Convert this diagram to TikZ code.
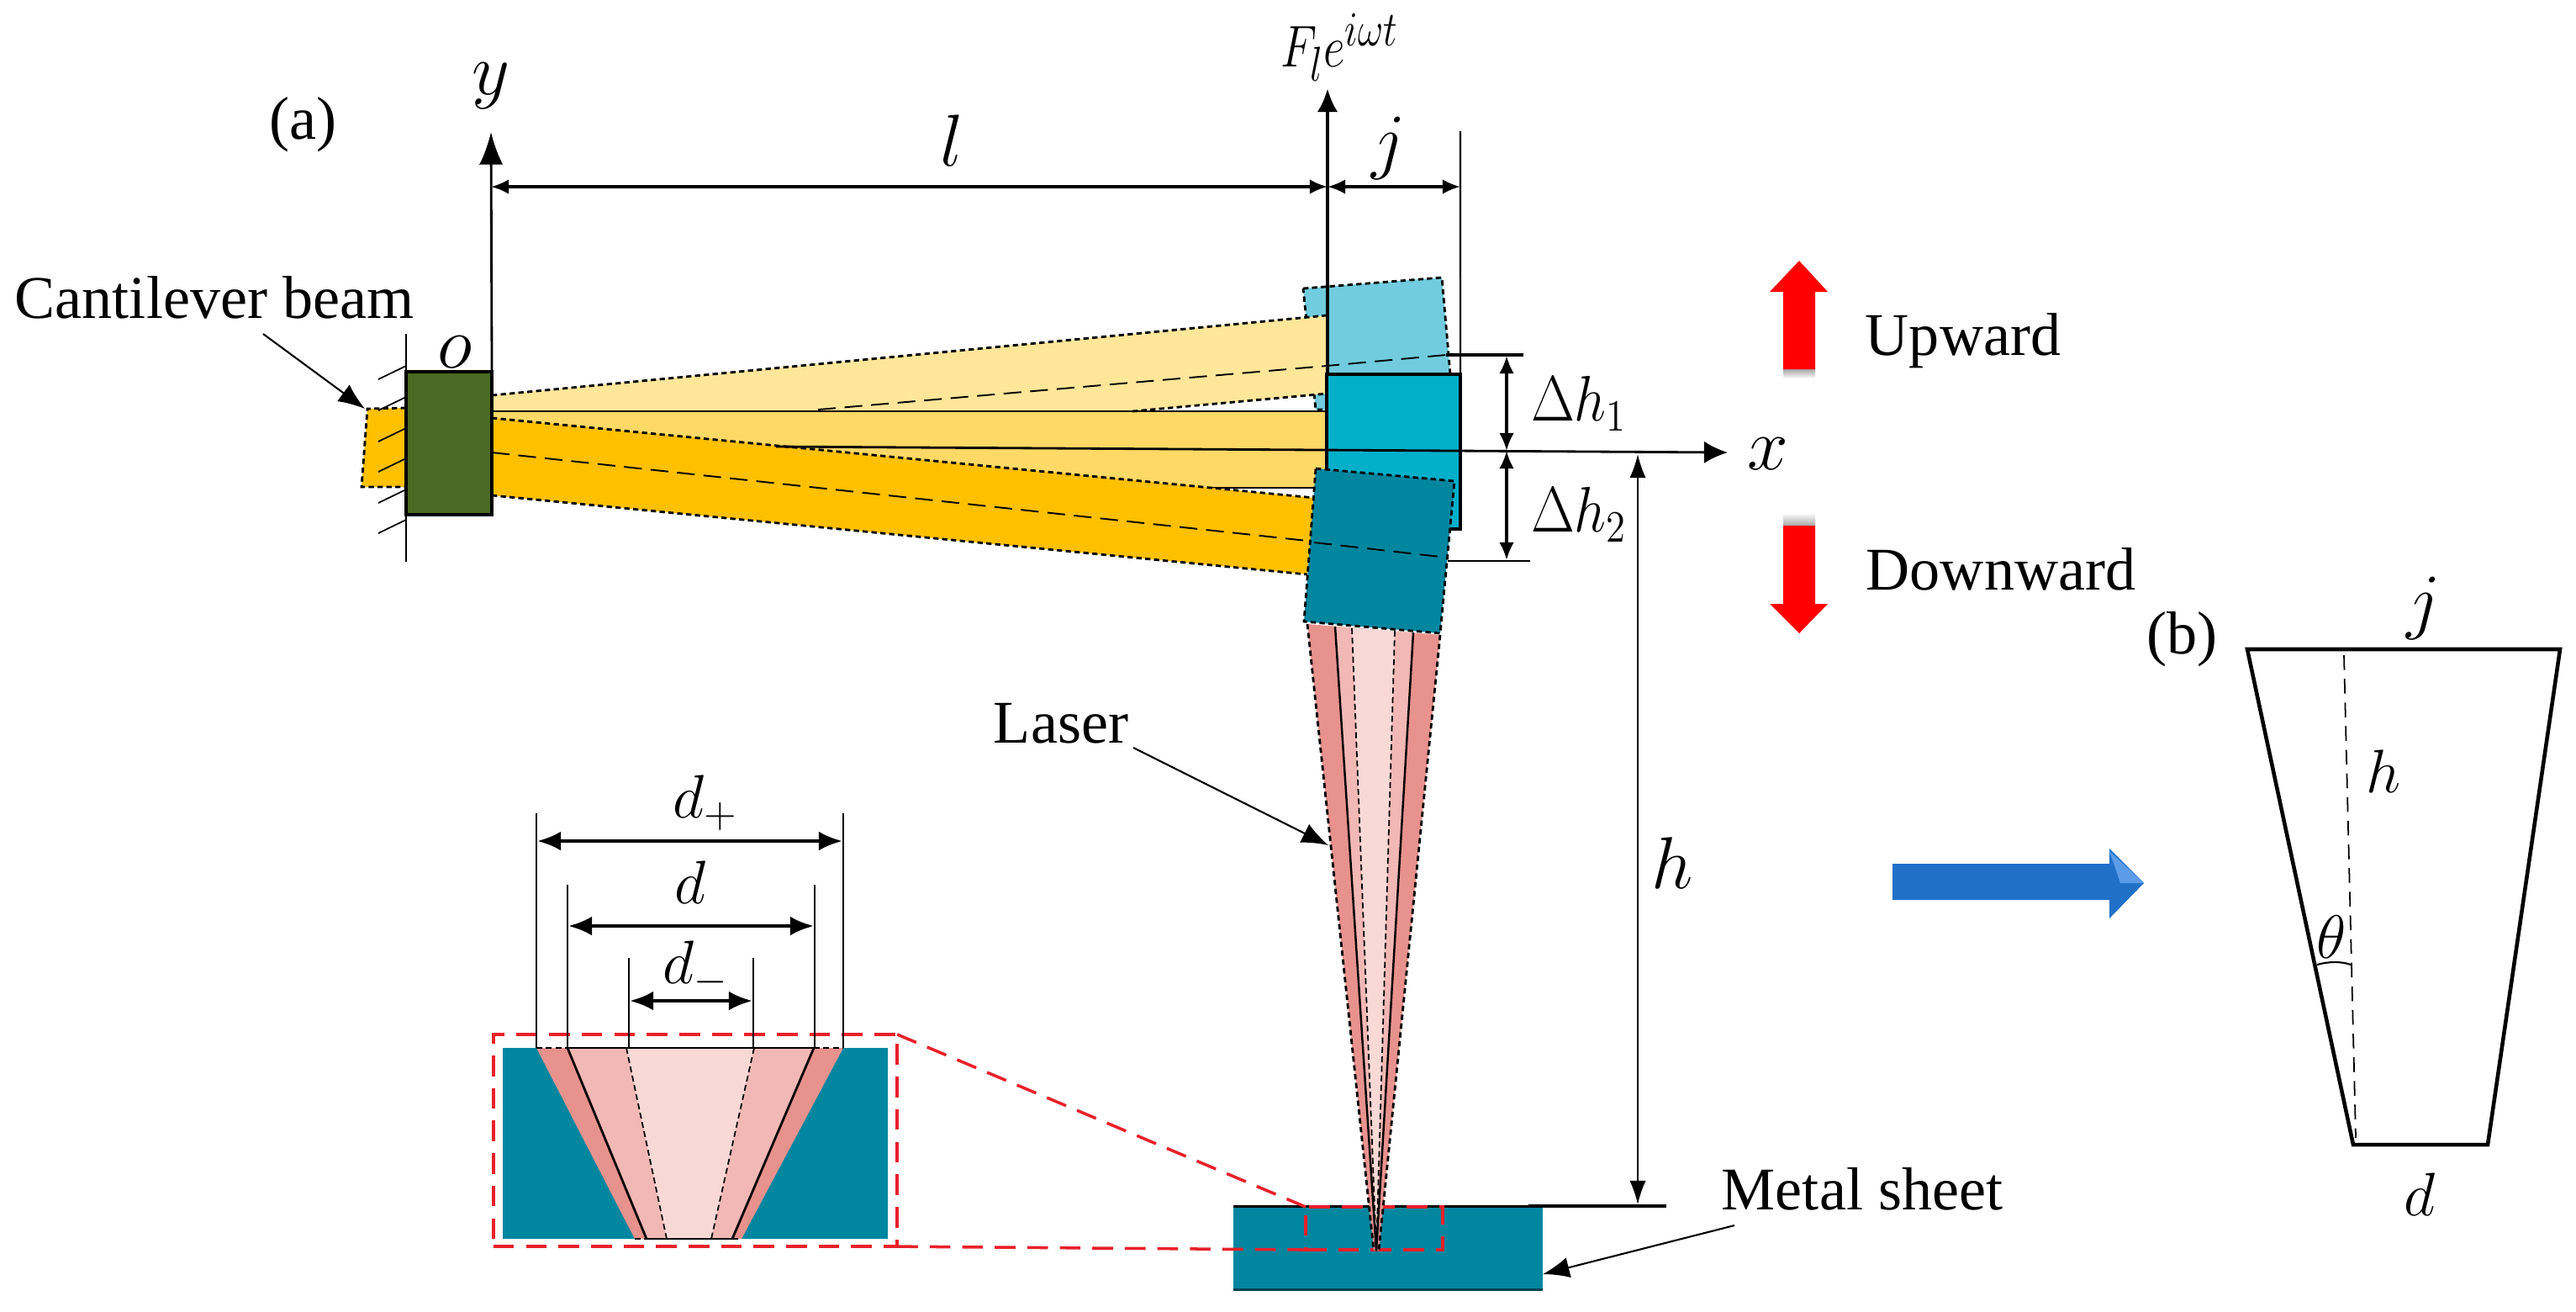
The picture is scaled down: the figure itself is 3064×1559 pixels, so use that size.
\documentclass[tikz,border=0pt]{standalone}
\usepackage[no-math]{fontspec}
\setmainfont{Liberation Serif}
\usetikzlibrary{arrows.meta}

\definecolor{boxgreen}{HTML}{4B6A23}
\definecolor{beamgold}{HTML}{FFC000}
\definecolor{beammid}{HTML}{FFD966}
\definecolor{beamlight}{HTML}{FFE699}
\definecolor{blockcyan}{HTML}{00B0CA}
\definecolor{blocklight}{HTML}{70CCDE}
\definecolor{blockdark}{HTML}{00869F}
\definecolor{laserdark}{HTML}{E8928E}
\definecolor{lasermid}{HTML}{F2B8B5}
\definecolor{laserlight}{HTML}{F8D9D6}
\definecolor{sheetred}{HTML}{E8202A}
\definecolor{bluearrow}{HTML}{2070C8}
\definecolor{bluelight}{HTML}{5B9BE8}

\begin{document}
\begin{tikzpicture}[x=0.01cm, y=-0.01cm,
	mathlabel/.style={inner sep=0pt, font=\fontsize{20.74}{24}\selectfont},
	biglabel/.style={inner sep=0pt, font=\fontsize{24.88}{28}\selectfont},
	textlabel/.style={inner sep=0pt, font=\fontsize{20.5}{24}\selectfont},
	plainbox/.style={inner sep=0pt, outer sep=0pt},
	dotedge/.style={line width=0.8pt, dash pattern=on 1.8pt off 1.2pt},
	midline/.style={line width=0.55pt, dash pattern=on 6pt off 3pt},
	fineline/.style={line width=0.5pt, dash pattern=on 2pt off 1.2pt},
	extline/.style={line width=0.6pt},
	dimline/.style={<->, >={Latex[length=6pt,width=5pt]}, line width=1pt},
	bigdim/.style={<->, >={Latex[length=8pt,width=6.5pt]}, line width=1.2pt},
	callout/.style={-{Latex[length=9pt,width=7pt]}, line width=0.6pt},
	axisline/.style={-{Latex[length=8pt,width=7.5pt]}, line width=0.8pt},
	redbox/.style={draw=sheetred, line width=1pt, dash pattern=on 7pt off 4pt}]
	\useasboundingbox (0,0) rectangle (3064,1559);

	\coordinate (l left) at (584,222);
	\coordinate (l right) at (1579,222);
	\coordinate (j right) at (1737,222);
	\coordinate (j top) at (1737,156);
	\coordinate (y tip) at (584,157);
	\coordinate (force foot) at (1579,445);
	\coordinate (force tip) at (1579,105);
	\coordinate (x start) at (923,531);
	\coordinate (x tip) at (2055,538);
	\coordinate (up edge) at (1720,422);
	\coordinate (up end) at (1812,422);
	\coordinate (down edge) at (1722,667);
	\coordinate (down end) at (1820,667);
	\coordinate (dh top) at (1792,423);
	\coordinate (dh mid) at (1792,536);
	\coordinate (dh bot) at (1792,666);
	\coordinate (h top) at (1948,540);
	\coordinate (h bot) at (1948,1432);
	\coordinate (h left) at (1818,1434);
	\coordinate (h right) at (1982,1434);
	\coordinate (laser tip) at (1637,1487);

	% laser
	\node[plainbox, fill=blockdark, minimum width=3.68cm, minimum height=0.99cm] (sheet) at (1651,1484) {};
	\draw[line width=0.6pt] (sheet.north west) -- (sheet.north east);
	\draw[line width=0.9pt, black!50!blockdark] (sheet.south west) -- (sheet.south east);
	\node[plainbox, redbox, minimum width=1.63cm, minimum height=0.51cm] (small red) at (1634.5,1460.5) {};
	\fill[laserdark] (1555,742) -- (1713,755) -- (1640,1487) -- (1634,1487) -- cycle;
	\fill[lasermid] (1588,745) -- (1681,752) -- (laser tip) -- cycle;
	\fill[laserlight] (1608,747) -- (1659,750) -- (laser tip) -- cycle;
	\draw[dotedge] (1555,742) -- (1634,1487);
	\draw[dotedge] (1713,755) -- (1640,1487);
	\draw[line width=0.7pt] (1588,745) -- (laser tip);
	\draw[line width=0.7pt] (1681,752) -- (laser tip);
	\draw[fineline] (1608,747) -- (laser tip);
	\draw[fineline] (1659,750) -- (laser tip);

	% beam
	\filldraw[fill=blocklight, dotedge] (1550,343) -- (1715,330) -- (1725,445) -- (1578,445) -- (1578,487) -- (1565,487) -- cycle;
	\filldraw[fill=beamgold, dotedge] (483,485) -- (437,486) -- (430,579) -- (483,579);
	\fill[beammid] (585,489) rectangle (1578,580);
	\fill[beamlight] (585,470) -- (1578,375) -- (1578,468) -- (1347,489) -- (585,489) -- cycle;
	\draw[line width=0.8pt] (585,489) -- (1578,489);
	\draw[line width=0.8pt] (1436,580) -- (1578,580);
	\draw[dotedge] (585,470) -- (1578,375);
	\draw[dotedge] (1347,489) -- (1578,468);
	\fill[beamgold] (585,497) -- (1564,592) -- (1555,683) -- (585,589) -- cycle;
	\draw[dotedge] (585,497) -- (1564,592);
	\draw[dotedge] (585,589) -- (1555,683);
	\draw[midline] (585,538) -- (1555,643);
	\draw[midline] (973,487) -- (1578,435) -- (up edge);

	\node[plainbox, draw, line width=0.9pt, fill=boxgreen, minimum width=1.02cm, minimum height=1.70cm] (clamp) at (534,527) {};
	\draw[line width=0.6pt] (483,397) -- (483,668);
	\foreach \yh in {435,472,509,545,582,618}
		\draw[line width=0.5pt] (483,\yh) -- ++(-33,16);

	\node[plainbox, draw, line width=0.9pt, fill=blockcyan, minimum width=1.59cm, minimum height=1.84cm] (block) at (1657.5,537) {};
	\draw[extline] (block.north east) -- (j top);
	\draw[axisline] (x start) -- (x tip);
	\filldraw[fill=blockdark, dotedge] (1565,557) -- (1730,572) -- (1713,753) -- (1551,739) -- cycle;
	\draw[midline] (1563,645) -- (1722,663);

	\draw[-{Latex[length=11pt,width=8pt]}, line width=0.8pt] (clamp.north east) -- (y tip);
	\draw[-{Latex[length=8pt,width=7pt]}, line width=1.4pt] (force foot) -- (force tip);
	\draw[dimline] (l left) -- (l right);
	\draw[dimline] (l right) -- (j right);

	\draw[line width=1.4pt] (up edge) -- (up end);
	\draw[line width=0.6pt] (down edge) -- (down end);
	\draw[dimline] (dh top) -- (dh mid);
	\draw[dimline] (dh mid) -- (dh bot);
	\draw[<->, >={Latex[length=8pt,width=5.5pt]}, line width=0.6pt] (h top) -- (h bot);
	\draw[line width=1.1pt] (h left) -- (h right);

	% inset
	\node[plainbox, fill=blockdark, minimum width=4.58cm, minimum height=2.27cm] (inset) at (827,1359.5) {};
	\fill[laserdark] (638,1246) -- (1003,1246) -- (882,1473) -- (755,1473) -- cycle;
	\fill[lasermid] (675,1246) -- (968,1246) -- (871,1473) -- (769,1473) -- cycle;
	\fill[laserlight] (745,1246) -- (897,1246) -- (846,1473) -- (793,1473) -- cycle;
	\draw[line width=0.8pt] (675,1246) -- (769,1473);
	\draw[line width=0.8pt] (968,1246) -- (871,1473);
	\draw[fineline] (745,1246) -- (793,1473);
	\draw[fineline] (897,1246) -- (846,1473);
	\draw[line width=0.8pt] (675,1246) -- (968,1246);
	\draw[line width=0.8pt] (769,1473) -- (871,1473);
	\draw[fineline] (638,1246) -- (675,1246);
	\draw[fineline] (968,1246) -- (1003,1246);
	\draw[fineline] (755,1473) -- (769,1473);
	\draw[fineline] (871,1473) -- (882,1473);

	\node[plainbox, redbox, minimum width=4.80cm, minimum height=2.52cm] (big red) at (827,1356) {};
	\draw[redbox] (big red.north east) -- (small red.north west);
	\draw[redbox] (big red.south east) -- (small red.south west);

	\draw[extline] (638,967) -- (638,1246);
	\draw[extline] (1003,967) -- (1003,1246);
	\draw[extline] (675,1052) -- (675,1246);
	\draw[extline] (969,1052) -- (969,1246);
	\draw[extline] (748,1139) -- (748,1246);
	\draw[extline] (896,1139) -- (896,1246);
	\draw[bigdim] (639,1000) -- (1002,1000);
	\draw[bigdim] (676,1101) -- (968,1101);
	\draw[bigdim] (749,1190) -- (895,1190);

	% arrows
	\shade[top color=black!35, bottom color=white] (2121,439) rectangle (2159,450);
	\fill[red] (2140,310) -- (2174,347) -- (2159,347) -- (2159,439) -- (2121,439) -- (2121,347) -- (2105,347) -- cycle;
	\shade[top color=white, bottom color=black!35] (2121,610) rectangle (2159,625);
	\fill[red] (2140,753) -- (2174,718) -- (2159,718) -- (2159,625) -- (2121,625) -- (2121,718) -- (2105,718) -- cycle;
	\fill[bluearrow] (2251,1027) -- (2509,1027) -- (2509,1009) -- (2550,1050) -- (2509,1092) -- (2509,1070) -- (2251,1070) -- cycle;
	\fill[bluelight] (2509,1012) -- (2550,1050) -- (2522,1050) -- cycle;

	% trapezoid
	\draw[line width=1.3pt, line join=miter] (2673,772) -- (3045,772) -- (2959,1361) -- (2799,1361) -- cycle;
	\draw[line width=0.5pt, dash pattern=on 5pt off 3pt] (2788,779) -- (2802,1353);
	\draw[line width=0.6pt] (2756,1147) .. controls (2770,1143) and (2785,1143) .. (2796,1147);

	\coordinate (beam tip) at (434,486);
	\coordinate (laser point) at (1580,1005);
	\coordinate (sheet point) at (1835,1515);
	\node[textlabel] (beam text) at (255,354) {Cantilever beam};
	\node[textlabel] (laser text) at (1262,860) {Laser};
	\node[textlabel] (sheet text) at (2215,1414) {Metal sheet};
	\draw[callout] (313,397) -- (beam tip);
	\draw[callout] (1348,889) -- (laser point);
	\draw[callout] (2063,1457) -- (sheet point);

	\node[textlabel] (part a) at (360,148) {(a)};
	\node[textlabel] (part b) at (2595,760) {(b)};
	\node[textlabel] (up text) at (2335,405) {Upward};
	\node[textlabel] (down text) at (2380,677) {Downward};
	\node[biglabel] (y label) at (584,102) {$y$};
	\node[biglabel] (l label) at (1132,167) {$l$};
	\node[biglabel] (o label) at (541,419) {$o$};
	\node[biglabel] (j label) at (1652,176) {$j$};
	\node[biglabel] (x label) at (2103,540) {$x$};
	\node[biglabel] (force label) at (1593,56) {\scalebox{0.64}[0.8]{$F_l e^{i\omega t}$}};
	\node[mathlabel] (dh one) at (1878,480) {\scalebox{0.92}[1.05]{$\Delta h_1$}};
	\node[mathlabel] (dh two) at (1878,612) {\scalebox{0.92}[1.05]{$\Delta h_2$}};
	\node[biglabel] (h label) at (1989,1026) {$h$};
	\node[mathlabel] (dplus label) at (839,955) {$d_+$};
	\node[mathlabel] (d label) at (821,1049) {$d$};
	\node[mathlabel] (dminus label) at (828,1152) {$d_-$};
	\node[biglabel] (j side) at (2883,723) {$j$};
	\node[mathlabel] (d side) at (2878,1420) {$d$};
	\node[mathlabel] (h side) at (2835,917) {$h$};
	\node[mathlabel] (theta label) at (2773,1114) {$\theta$};
\end{tikzpicture}
\end{document}
